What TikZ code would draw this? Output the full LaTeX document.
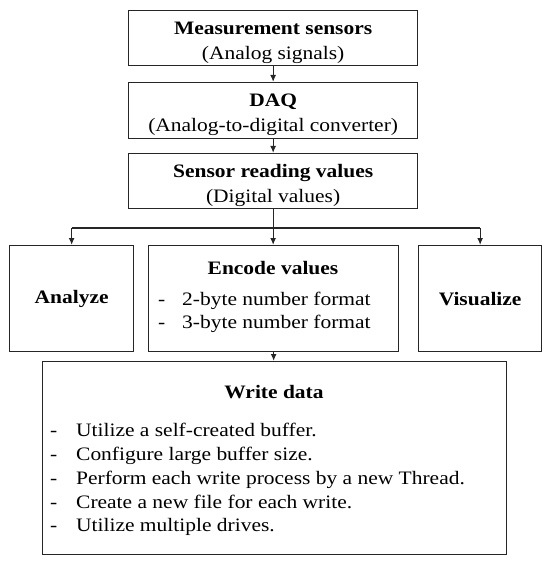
\documentclass[tikz,border=0pt]{standalone}
\usepackage{fontspec}
\setmainfont[FakeStretch=1.13]{Liberation Serif}
\usetikzlibrary{arrows.meta}
\begin{document}
\begin{tikzpicture}[x=1pt,y=-1pt,
  box/.style={draw=black!85, line width=1.3pt, inner sep=0pt, anchor=north west},
  txt/.style={font=\fontsize{19}{25}\selectfont, align=center, inner sep=0pt},
  ltxt/.style={font=\fontsize{19}{23}\selectfont, inner sep=0pt, anchor=base west},
  arr/.style={-{Latex[length=7pt,width=6pt]}, line width=1.3pt, draw=black!85},
  ln/.style={line width=1.3pt, draw=black!85}]
\useasboundingbox (0,0) rectangle (550,564);
\node[box, minimum width=289pt, minimum height=55pt] (m) at (128,10) {};
\node[txt] (mt) at ([yshift=-4.5pt]m.center) {\textbf{Measurement sensors}\\(Analog signals)};
\node[box, minimum width=289pt, minimum height=56pt] (d) at (128,82) {};
\node[txt] (dt) at ([yshift=-4pt]d.center) {\textbf{DAQ}\\(Analog-to-digital converter)};
\node[box, minimum width=289pt, minimum height=55pt] (s) at (128,153) {};
\node[txt] (st) at ([yshift=-4.5pt]s.center) {\textbf{Sensor reading values}\\(Digital values)};
\node[box, minimum width=124pt, minimum height=106pt] (a) at (9,245) {};
\node[txt] (at) at (a.center) {\textbf{Analyze}};
\node[box, minimum width=250pt, minimum height=106pt] (e) at (148,245) {};
\node[txt] (et) at (273,268) {\textbf{Encode values}};
\node[ltxt] (e1) at (158,305) {\makebox[24pt][l]{-}2-byte number format};
\node[ltxt] (e2) at (158,328) {\makebox[24pt][l]{-}3-byte number format};
\node[box, minimum width=123pt, minimum height=106pt] (v) at (418,245) {};
\node[txt] (vt) at (v.center) {\textbf{Visualize}};
\node[box, minimum width=464pt, minimum height=193pt] (w) at (42,361) {};
\node[txt] (wt) at (274,392) {\textbf{Write data}};
\node[ltxt] (w1) at (50,436) {\makebox[26pt][l]{-}Utilize a self-created buffer.};
\node[ltxt] (w2) at (50,460) {\makebox[26pt][l]{-}Configure large buffer size.};
\node[ltxt] (w3) at (50,484) {\makebox[26pt][l]{-}Perform each write process by a new Thread.};
\node[ltxt] (w4) at (50,508) {\makebox[26pt][l]{-}Create a new file for each write.};
\node[ltxt] (w5) at (50,531) {\makebox[26pt][l]{-}Utilize multiple drives.};
\coordinate (j) at (272.5,228);
\draw[arr] (m.south) -- (d.north);
\draw[arr] (d.south) -- (s.north);
\draw[arr] (s.south) -- (s.south |- e.north);
\draw[ln] (a.north |- j) -- (v.north |- j);
\draw[arr] (a.north |- j) -- (a.north);
\draw[arr] (v.north |- j) -- (v.north);
\draw[arr] (e.south) -- (e.south |- w.north);
\end{tikzpicture}
\end{document}
